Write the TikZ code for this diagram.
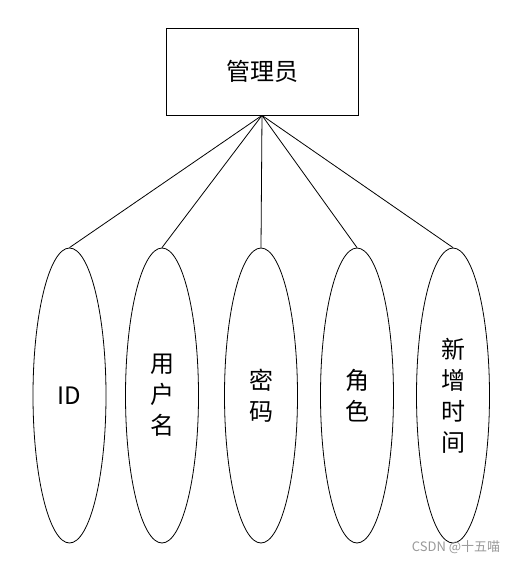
\documentclass[tikz,border=0pt]{standalone}
\usepackage{fontspec}
\usepackage{tikz}
\usetikzlibrary{shapes, positioning}
\newfontfamily\cjk{Noto Sans CJK SC}

\begin{document}
\begin{tikzpicture}[x=1pt, y=-1pt,
        entity/.style={draw, line width=0.8pt, minimum width=192pt, minimum height=87pt, font=\cjk\fontsize{24}{31}\selectfont},
        attr/.style={draw, ellipse, line width=0.8pt, inner sep=0pt, minimum width=73pt, minimum height=295pt, align=center, font=\cjk\fontsize{24}{31}\selectfont}]
        \useasboundingbox (0, 0) rectangle (521, 563);

        \node[entity] (Nm) at (262, 71.5) {管理员};

        \node[attr] (N1) at (69.5, 395.5) {ID};
        \node[attr] (N2) at (162, 395.5) {用\\户\\名};
        \node[attr] (N3) at (261, 395.5) {密\\码};
        \node[attr] (N4) at (357, 395.5) {角\\色};
        \node[attr] (N5) at (453, 395.5) {新\\增\\时\\间};

        \draw [line width=0.8pt] (Nm.south) -- (N1.north);
        \draw [line width=0.8pt] (Nm.south) -- (N2.north);
        \draw [line width=0.8pt] (Nm.south) -- (N3.north);
        \draw [line width=0.8pt] (Nm.south) -- (N4.north);
        \draw [line width=0.8pt] (Nm.south) -- (N5.north);

        \node[text=black!40, inner sep=0pt, font=\cjk\fontsize{13}{15}\selectfont] (Nw) at (456, 547) {CSDN @十五喵};
    \end{tikzpicture}
\end{document}
